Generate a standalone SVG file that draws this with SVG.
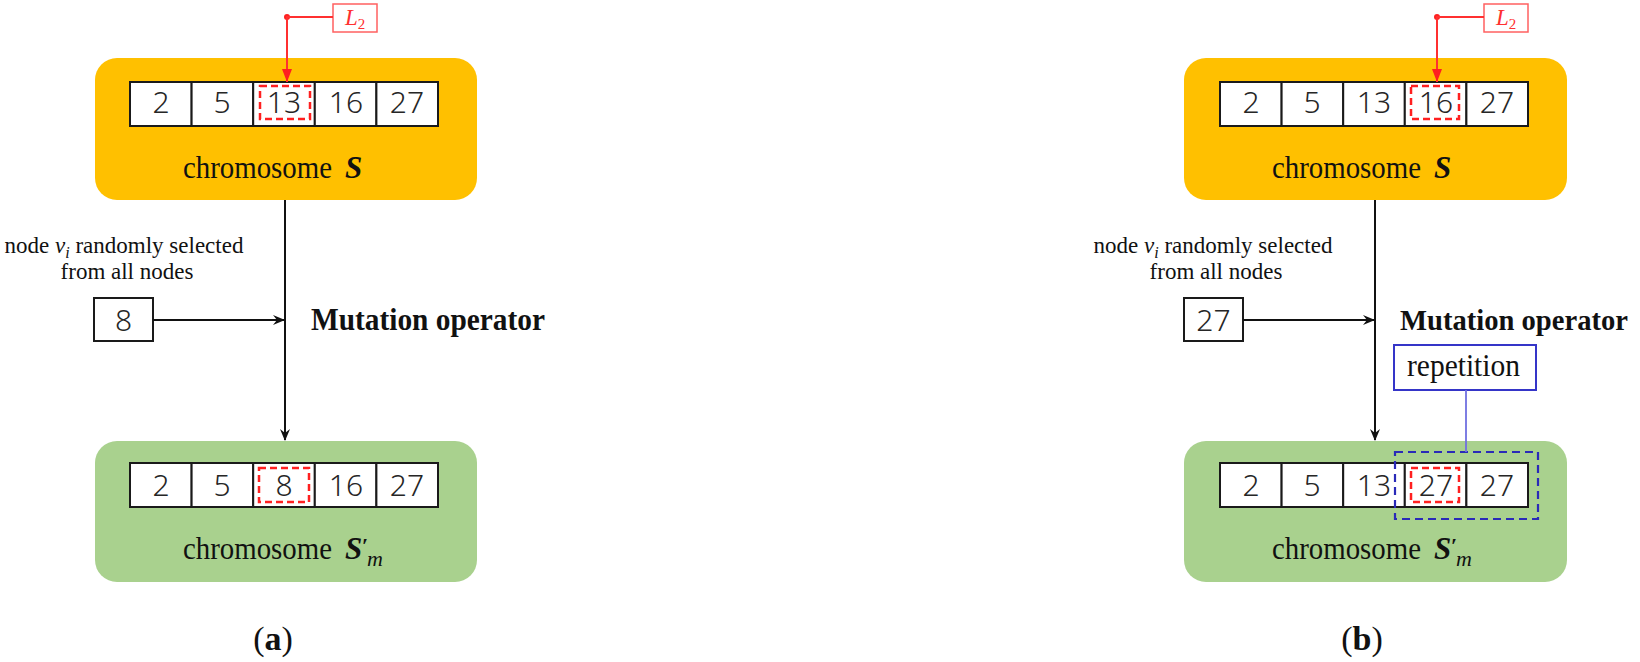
<svg xmlns="http://www.w3.org/2000/svg" width="1640" height="662" viewBox="0 0 1640 662">
<style>
.orange{fill:#FFC000;}
.green{fill:#A9D18E;}
.cell{fill:#fff;stroke:#1a1a1a;stroke-width:2;}
.num{font-family:"Noto Sans","DejaVu Sans",sans-serif;font-weight:300;font-size:30px;fill:#262626;text-anchor:middle;}
.serif{font-family:"Liberation Serif","Times New Roman",serif;fill:#111;}
.reddash{fill:none;stroke:#FF2020;stroke-width:2.5;stroke-dasharray:7 4;}
.bluedash{fill:none;stroke:#2A2AB8;stroke-width:2.2;stroke-dasharray:8 5;}
.redline{stroke:#FF3030;stroke-width:2;fill:none;}
.conn{stroke:#111;stroke-width:2;fill:none;}
.lbox{fill:#fff;stroke:#FF6060;stroke-width:1.5;}
.ltext{font-family:"Liberation Serif",serif;font-style:italic;font-size:23px;fill:#FF3030;}
</style>
<defs>
<marker id="blk" viewBox="0 0 12 12" refX="11" refY="6" markerWidth="12" markerHeight="12" markerUnits="userSpaceOnUse" orient="auto">
<path d="M0,1 L12,6 L0,11 L4,6 Z" fill="#111"/>
</marker>
<marker id="red" viewBox="0 0 13 10" refX="13" refY="5" markerWidth="13" markerHeight="10" markerUnits="userSpaceOnUse" orient="auto">
<path d="M0,0 L13,5 L0,10 Z" fill="#FF2020"/>
</marker>
</defs>
<rect width="1640" height="662" fill="#fff"/>

<!-- Panel (a) -->
<g id="a-chromosome-S">
<rect class="orange" x="95" y="58" width="382" height="142" rx="22"/>
<rect class="cell" x="130" y="82" width="61.6" height="44"/>
<rect class="cell" x="191.6" y="82" width="61.6" height="44"/>
<rect class="cell" x="253.2" y="82" width="61.6" height="44"/>
<rect class="cell" x="314.8" y="82" width="61.6" height="44"/>
<rect class="cell" x="376.4" y="82" width="61.6" height="44"/>
<text class="num" x="161" y="113">2</text>
<text class="num" x="222" y="113">5</text>
<text class="num" x="284" y="113">13</text>
<text class="num" x="346" y="113">16</text>
<text class="num" x="407" y="113">27</text>
<rect class="reddash" x="260" y="86" width="50" height="33"/>
<text class="serif" x="183" y="178" font-size="31" textLength="149" lengthAdjust="spacingAndGlyphs">chromosome</text>
<text class="serif" x="345" y="178" font-size="31" font-weight="bold" font-style="italic">S</text>
</g>

<g id="a-L2">
<rect class="lbox" x="333" y="4" width="44" height="28"/>
<text class="ltext" x="345" y="25">L<tspan font-size="15" font-style="normal" dy="4">2</tspan></text>
</g>

<g id="a-input">
<text class="serif" x="124" y="253" font-size="23" text-anchor="middle">node <tspan font-style="italic">v</tspan><tspan font-style="italic" font-size="16" dy="5">i</tspan><tspan dy="-5"> randomly selected</tspan></text>
<text class="serif" x="127" y="279" font-size="23" text-anchor="middle">from all nodes</text>
<rect class="cell" x="94" y="298" width="59" height="43"/>
<text class="num" x="123.5" y="331">8</text>
</g>

<g id="a-mutation">
<text class="serif" x="311" y="330" font-size="31" font-weight="bold" textLength="234" lengthAdjust="spacingAndGlyphs">Mutation operator</text>
</g>

<g id="a-chromosome-Sm">
<rect class="green" x="95" y="441" width="382" height="141" rx="22"/>
<rect class="cell" x="130" y="463" width="61.6" height="44"/>
<rect class="cell" x="191.6" y="463" width="61.6" height="44"/>
<rect class="cell" x="253.2" y="463" width="61.6" height="44"/>
<rect class="cell" x="314.8" y="463" width="61.6" height="44"/>
<rect class="cell" x="376.4" y="463" width="61.6" height="44"/>
<text class="num" x="161" y="496">2</text>
<text class="num" x="222" y="496">5</text>
<text class="num" x="284" y="496">8</text>
<text class="num" x="346" y="496">16</text>
<text class="num" x="407" y="496">27</text>
<rect class="reddash" x="259" y="468" width="50" height="34"/>
<text class="serif" x="183" y="559" font-size="31" textLength="149" lengthAdjust="spacingAndGlyphs">chromosome</text>
<text class="serif" x="345" y="559" font-size="31" font-weight="bold" font-style="italic">S</text>
<text class="serif" x="362" y="553" font-size="22" font-weight="bold">′</text>
<text class="serif" x="367" y="566" font-size="22" font-style="italic">m</text>
</g>

<g id="caption-a">
<text class="serif" x="273" y="650" font-size="34" text-anchor="middle">(<tspan font-weight="bold">a</tspan>)</text>
</g>

<!-- Panel (b) -->
<g id="b-chromosome-S">
<rect class="orange" x="1184" y="58" width="383" height="142" rx="22"/>
<rect class="cell" x="1220" y="82" width="61.6" height="44"/>
<rect class="cell" x="1281.6" y="82" width="61.6" height="44"/>
<rect class="cell" x="1343.2" y="82" width="61.6" height="44"/>
<rect class="cell" x="1404.8" y="82" width="61.6" height="44"/>
<rect class="cell" x="1466.4" y="82" width="61.6" height="44"/>
<text class="num" x="1251" y="113">2</text>
<text class="num" x="1312" y="113">5</text>
<text class="num" x="1374" y="113">13</text>
<text class="num" x="1436" y="113">16</text>
<text class="num" x="1497" y="113">27</text>
<rect class="reddash" x="1411" y="86" width="48" height="33"/>
<text class="serif" x="1272" y="178" font-size="31" textLength="149" lengthAdjust="spacingAndGlyphs">chromosome</text>
<text class="serif" x="1434" y="178" font-size="31" font-weight="bold" font-style="italic">S</text>
</g>

<g id="b-L2">
<rect class="lbox" x="1484" y="4" width="44" height="28"/>
<text class="ltext" x="1496" y="25">L<tspan font-size="15" font-style="normal" dy="4">2</tspan></text>
</g>

<g id="b-input">
<text class="serif" x="1213" y="253" font-size="23" text-anchor="middle">node <tspan font-style="italic">v</tspan><tspan font-style="italic" font-size="16" dy="5">i</tspan><tspan dy="-5"> randomly selected</tspan></text>
<text class="serif" x="1216" y="279" font-size="23" text-anchor="middle">from all nodes</text>
<rect class="cell" x="1184" y="298" width="59" height="43"/>
<text class="num" x="1213.5" y="331">27</text>
</g>

<g id="b-mutation">
<text class="serif" x="1400" y="330" font-size="30" font-weight="bold" textLength="228" lengthAdjust="spacingAndGlyphs">Mutation operator</text>
</g>

<g id="b-repetition">
<rect x="1394" y="345" width="142" height="45" fill="#fff" stroke="#3535C8" stroke-width="2"/>
<text class="serif" x="1407" y="376" font-size="31" textLength="113" lengthAdjust="spacingAndGlyphs">repetition</text>
</g>

<g id="b-chromosome-Sm">
<rect class="green" x="1184" y="441" width="383" height="141" rx="22"/>
<rect class="cell" x="1220" y="463" width="61.6" height="44"/>
<rect class="cell" x="1281.6" y="463" width="61.6" height="44"/>
<rect class="cell" x="1343.2" y="463" width="61.6" height="44"/>
<rect class="cell" x="1404.8" y="463" width="61.6" height="44"/>
<rect class="cell" x="1466.4" y="463" width="61.6" height="44"/>
<text class="num" x="1251" y="496">2</text>
<text class="num" x="1312" y="496">5</text>
<text class="num" x="1374" y="496">13</text>
<text class="num" x="1436" y="496">27</text>
<text class="num" x="1497" y="496">27</text>
<rect class="reddash" x="1411" y="468" width="48" height="34"/>
<rect class="bluedash" x="1395" y="452" width="143" height="67"/>
<text class="serif" x="1272" y="559" font-size="31" textLength="149" lengthAdjust="spacingAndGlyphs">chromosome</text>
<text class="serif" x="1434" y="559" font-size="31" font-weight="bold" font-style="italic">S</text>
<text class="serif" x="1451" y="553" font-size="22" font-weight="bold">′</text>
<text class="serif" x="1456" y="566" font-size="22" font-style="italic">m</text>
</g>

<g id="caption-b">
<text class="serif" x="1362" y="650" font-size="34" text-anchor="middle">(<tspan font-weight="bold">b</tspan>)</text>
</g>

<g id="connectors">
<!-- panel a -->
<circle cx="287" cy="17" r="3" fill="#FF2020"/>
<polyline class="redline" points="333,17 287,17 287,82" marker-end="url(#red)"/>
<line class="conn" x1="285" y1="200" x2="285" y2="440" marker-end="url(#blk)"/>
<line class="conn" x1="153" y1="320" x2="284" y2="320" marker-end="url(#blk)"/>
<!-- panel b -->
<circle cx="1437" cy="17" r="3" fill="#FF2020"/>
<polyline class="redline" points="1484,17 1437,17 1437,82" marker-end="url(#red)"/>
<line class="conn" x1="1375" y1="200" x2="1375" y2="440" marker-end="url(#blk)"/>
<line class="conn" x1="1243" y1="320" x2="1374" y2="320" marker-end="url(#blk)"/>
<line x1="1466" y1="390" x2="1466" y2="452" stroke="#7070E0" stroke-width="1.8"/>
</g>
</svg>
